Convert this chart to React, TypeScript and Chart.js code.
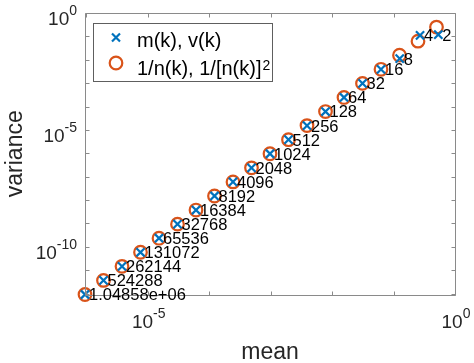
import { useEffect, useRef } from "react";
import { Chart, registerables } from "chart.js";

Chart.register(...registerables);

// ---- data ----
const nLabels = [
  "2", "4", "8", "16", "32", "64", "128", "256", "512", "1024",
  "2048", "4096", "8192", "16384", "32768", "65536", "131072", "262144", "524288", "1.04858e+06",
];

// m(k), v(k)
const meanValues = [
  0.535, 0.27, 0.126, 0.0625, 0.03125, 0.015625, 0.0078125, 0.00390625, 0.001953125, 9.765625e-4,
  4.8828125e-4, 2.44140625e-4, 1.220703125e-4, 6.103515625e-5, 3.0517578125e-5, 1.52587890625e-5,
  7.62939453125e-6, 3.814697265625e-6, 1.9073486328125e-6, 9.5367431640625e-7,
];
const varianceValues = [
  0.118, 0.11, 0.0112, 0.0039, 9.8e-4, 2.44e-4, 6.1e-5, 1.526e-5, 3.815e-6, 9.537e-7,
  2.384e-7, 5.96e-8, 1.49e-8, 3.725e-9, 9.313e-10, 2.328e-10,
  5.821e-11, 1.455e-11, 3.638e-12, 9.095e-13,
];

// 1/n(k), 1/[n(k)]^2
const invN = [
  0.5, 0.25, 0.125, 0.0625, 0.03125, 0.015625, 0.0078125, 0.00390625, 0.001953125, 9.765625e-4,
  4.8828125e-4, 2.44140625e-4, 1.220703125e-4, 6.103515625e-5, 3.0517578125e-5, 1.52587890625e-5,
  7.62939453125e-6, 3.814697265625e-6, 1.9073486328125e-6, 9.5367431640625e-7,
];
const invN2 = [
  0.25, 0.0625, 0.015625, 0.00390625, 9.765625e-4, 2.44140625e-4, 6.103515625e-5, 1.52587890625e-5,
  3.814697265625e-6, 9.5367431640625e-7, 2.384185791015625e-7, 5.9604644775390625e-8,
  1.4901161193847656e-8, 3.725290298461914e-9, 9.313225746154785e-10, 2.3283064365386963e-10,
  5.820766091346741e-11, 1.4551915228366852e-11, 3.637978807091713e-12, 9.094947017729282e-13,
];

const xMin = 9.5367431640625e-7;
const xMax = 1;
const yMin = 9.094947017729282e-13;
const yMax = 1;

const xTickExponents = [-6, -5, -4, -3, -2, -1, 0];
const xLabelExponents = [-5, 0];
const yTickExponents = [0, -1, -2, -3, -4, -5, -6, -7, -8, -9, -10, -11, -12];
const yLabelExponents = [0, -5, -10];

const xTitle = "mean";
const yTitle = "variance";
const legendLabel1 = "m(k), v(k)";
const legendLabel2 = "1/n(k), 1/[n(k)]";
const legendLabel2Sup = "2";

// ---- styles ----
const FONT = '"Liberation Sans", Arial, Helvetica, sans-serif';
const BLUE = "#0072BD";
const ORANGE = "#D95319";
const AXIS = "#8a8a8a";
const TEXT = "#262626";

function drawPow(
  ctx: CanvasRenderingContext2D,
  exp: number,
  x: number,
  baseY: number,
  align: "center" | "right"
) {
  const base = "10";
  const sup = exp < 0 ? "-" + String(-exp) : String(exp);
  ctx.font = `19px ${FONT}`;
  const wb = ctx.measureText(base).width;
  ctx.font = `14px ${FONT}`;
  const ws = ctx.measureText(sup).width;
  const total = wb + ws;
  const left = align === "center" ? x - total / 2 : x - total;
  ctx.textAlign = "left";
  ctx.textBaseline = "alphabetic";
  ctx.font = `19px ${FONT}`;
  ctx.fillText(base, left, baseY);
  ctx.font = `14px ${FONT}`;
  ctx.fillText(sup, left + wb, baseY - 10);
}

const matlabPlugin = {
  id: "matlabAxes",
  afterDatasetsDraw(chart: any) {
    const { ctx, chartArea: a, scales } = chart;
    const xs = scales.x;
    const ys = scales.y;
    ctx.save();

    // box
    ctx.strokeStyle = AXIS;
    ctx.lineWidth = 1;
    const L = Math.round(a.left) + 0.5;
    const R = Math.round(a.right) + 0.5;
    const T = Math.round(a.top) + 0.5;
    const B = Math.round(a.bottom) + 0.5;
    ctx.beginPath();
    ctx.rect(L, T, R - L, B - T);
    ctx.stroke();

    // ticks
    const tl = 4;
    ctx.beginPath();
    for (const e of xTickExponents) {
      const px = Math.round(xs.getPixelForValue(Math.pow(10, e))) + 0.5;
      if (px < L - 0.1 || px > R + 0.1) continue;
      ctx.moveTo(px, B);
      ctx.lineTo(px, B - tl);
      ctx.moveTo(px, T);
      ctx.lineTo(px, T + tl);
    }
    for (const e of yTickExponents) {
      const py = Math.round(ys.getPixelForValue(Math.pow(10, e))) + 0.5;
      if (py < T - 0.1 || py > B + 0.1) continue;
      ctx.moveTo(L, py);
      ctx.lineTo(L + tl, py);
      ctx.moveTo(R, py);
      ctx.lineTo(R - tl, py);
    }
    ctx.stroke();

    // tick labels
    ctx.fillStyle = TEXT;
    for (const e of xLabelExponents) {
      const px = xs.getPixelForValue(Math.pow(10, e));
      drawPow(ctx, e, px + 1, a.bottom + 33.5, "center");
    }
    for (const e of yLabelExponents) {
      const py = ys.getPixelForValue(Math.pow(10, e));
      drawPow(ctx, e, a.left - 8, py + 12, "right");
    }

    // axis titles
    ctx.font = `23px ${FONT}`;
    ctx.textAlign = "center";
    ctx.textBaseline = "alphabetic";
    ctx.fillText(xTitle, (a.left + a.right) / 2, 359);
    ctx.save();
    ctx.translate(22, (a.top + a.bottom) / 2);
    ctx.rotate(-Math.PI / 2);
    ctx.fillText(yTitle, 0, 0);
    ctx.restore();

    // data labels
    ctx.fillStyle = "#000";
    ctx.font = `16.5px ${FONT}`;
    ctx.textAlign = "left";
    for (let i = 0; i < nLabels.length; i++) {
      const px = xs.getPixelForValue(meanValues[i]);
      const py = ys.getPixelForValue(varianceValues[i]);
      ctx.fillText(nLabels[i], px + 4, py + 0.36 * 16.5);
    }

    // legend
    const lx = 93.5, ly = 23.5, lw = 179, lh = 58;
    ctx.fillStyle = "#fff";
    ctx.fillRect(lx, ly, lw, lh);
    ctx.strokeStyle = "#5e5e5e";
    ctx.lineWidth = 1;
    ctx.strokeRect(lx, ly, lw, lh);

    // cross marker
    ctx.strokeStyle = BLUE;
    ctx.lineWidth = 2.2;
    const cx = 116, cy = 37.5, h = 4;
    ctx.beginPath();
    ctx.moveTo(cx - h, cy - h);
    ctx.lineTo(cx + h, cy + h);
    ctx.moveTo(cx - h, cy + h);
    ctx.lineTo(cx + h, cy - h);
    ctx.stroke();
    // circle marker
    ctx.strokeStyle = ORANGE;
    ctx.beginPath();
    ctx.arc(116, 63, 6.3, 0, Math.PI * 2);
    ctx.stroke();

    ctx.fillStyle = "#000";
    ctx.font = `20px ${FONT}`;
    ctx.textAlign = "left";
    ctx.fillText(legendLabel1, 137, 46.5);
    ctx.fillText(legendLabel2, 137, 74.5);
    const w2 = ctx.measureText(legendLabel2).width;
    ctx.font = `14px ${FONT}`;
    ctx.fillText(legendLabel2Sup, 137 + w2 + 1, 69.5);

    ctx.restore();
  },
};

export default function App() {
  const canvasRef = useRef<HTMLCanvasElement | null>(null);

  useEffect(() => {
    const canvas = canvasRef.current;
    if (!canvas) return;
    const crossData = meanValues.map((m, i) => ({ x: m, y: varianceValues[i] }));
    const circleData = invN.map((m, i) => ({ x: m, y: invN2[i] }));
    const chart = new Chart(canvas, {
      type: "scatter",
      data: {
        datasets: [
          {
            label: legendLabel1,
            data: crossData,
            pointStyle: "crossRot",
            pointRadius: 5.8,
            pointBorderWidth: 2.2,
            borderColor: BLUE,
            backgroundColor: BLUE,
            showLine: false,
            clip: false,
          } as any,
          {
            label: legendLabel2 + legendLabel2Sup,
            data: circleData,
            pointStyle: "circle",
            pointRadius: 6.3,
            pointBorderWidth: 2.2,
            borderColor: ORANGE,
            backgroundColor: "rgba(0,0,0,0)",
            showLine: false,
            clip: false,
          } as any,
        ],
      },
      options: {
        responsive: false,
        animation: false,
        devicePixelRatio: 1,
        layout: { padding: { left: 85, top: 13, right: 19, bottom: 68.5 } },
        plugins: { legend: { display: false }, tooltip: { enabled: false } },
        scales: {
          x: { type: "logarithmic", min: xMin, max: xMax, display: false },
          y: { type: "logarithmic", min: yMin, max: yMax, display: false },
        },
      },
      plugins: [matlabPlugin],
    });
    return () => chart.destroy();
  }, []);

  return (
    <div style={{ position: "absolute", left: 0, top: 0, width: 474, height: 363, background: "#fff" }}>
      <canvas ref={canvasRef} width={474} height={363} style={{ width: 474, height: 363 }} />
    </div>
  );
}
